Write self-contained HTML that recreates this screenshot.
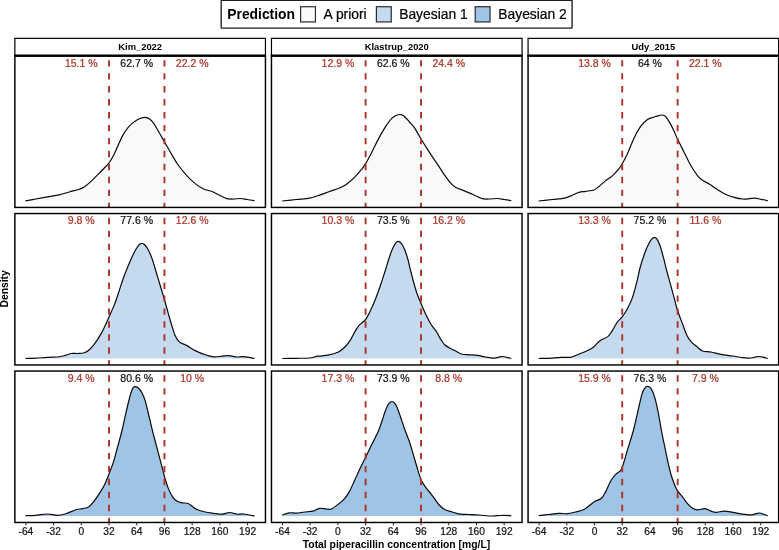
<!DOCTYPE html>
<html lang="en"><head><meta charset="utf-8"><title>Prediction densities</title>
<style>html,body{margin:0;padding:0;background:#fff}body{width:779px;height:550px;overflow:hidden}svg{display:block}text{font-family:"Liberation Sans", Arial, Helvetica, sans-serif;stroke-width:0.22px;paint-order:stroke fill}</style></head><body>
<svg width="779" height="550" viewBox="0 0 779 550">
<rect x="0" y="0" width="779" height="550" fill="#fff"/>
<defs>
<clipPath id="cp00"><rect x="14.87" y="56" width="250.58" height="151.42"/></clipPath>
<clipPath id="cp01"><rect x="271.47" y="56" width="250.58" height="151.42"/></clipPath>
<clipPath id="cp02"><rect x="528.07" y="56" width="250.58" height="151.42"/></clipPath>
<clipPath id="cp10"><rect x="14.87" y="213.55" width="250.58" height="151.42"/></clipPath>
<clipPath id="cp11"><rect x="271.47" y="213.55" width="250.58" height="151.42"/></clipPath>
<clipPath id="cp12"><rect x="528.07" y="213.55" width="250.58" height="151.42"/></clipPath>
<clipPath id="cp20"><rect x="14.87" y="371.05" width="250.58" height="151.42"/></clipPath>
<clipPath id="cp21"><rect x="271.47" y="371.05" width="250.58" height="151.42"/></clipPath>
<clipPath id="cp22"><rect x="528.07" y="371.05" width="250.58" height="151.42"/></clipPath>
</defs>
<g id="legend">
<rect x="221.2" y="0.2" width="350.9" height="27.85" rx="0.6" fill="#fff" stroke="#1c1c1c" stroke-width="1.35"/>
<text x="227.3" y="19.45" font-size="13.85" font-weight="bold" fill="#000">Prediction</text>
<rect x="300.6" y="6.72" width="14.85" height="15.2" fill="#f8f9fb" stroke="#2b2b2b" stroke-width="1.2"/>
<text x="323.6" y="19.45" font-size="13.85" fill="#000" stroke="#000">A priori</text>
<rect x="376.4" y="6.72" width="14.85" height="15.2" fill="#c5daef" stroke="#2b2b2b" stroke-width="1.2"/>
<text x="399.2" y="19.45" font-size="13.85" fill="#000" stroke="#000">Bayesian 1</text>
<rect x="475.2" y="6.72" width="14.85" height="15.2" fill="#a0c4e6" stroke="#2b2b2b" stroke-width="1.2"/>
<text x="498.3" y="19.45" font-size="13.85" fill="#000" stroke="#000">Bayesian 2</text>
</g>
<rect x="14.87" y="38.35" width="250.58" height="17.65" fill="#fff" stroke="#000" stroke-width="1.2"/>
<text x="140.16" y="50.1" font-size="9.4" font-weight="bold" text-anchor="middle" fill="#000">Kim_2022</text>
<rect x="271.47" y="38.35" width="250.58" height="17.65" fill="#fff" stroke="#000" stroke-width="1.2"/>
<text x="396.76" y="50.1" font-size="9.4" font-weight="bold" text-anchor="middle" fill="#000">Klastrup_2020</text>
<rect x="528.07" y="38.35" width="250.58" height="17.65" fill="#fff" stroke="#000" stroke-width="1.2"/>
<text x="653.36" y="50.1" font-size="9.4" font-weight="bold" text-anchor="middle" fill="#000">Udy_2015</text>
<g id="r1c1">
<g clip-path="url(#cp00)">
<path d="M25.5 200.8C27.2 200.5 32.03 199.67 35.7 199C39.37 198.33 43.58 197.5 47.5 196.8C51.42 196.1 55.58 195.6 59.2 194.8C62.82 194 65.87 192.92 69.2 192C72.53 191.08 76.68 190.13 79.2 189.3C81.72 188.47 82.33 188.32 84.3 187C86.27 185.68 88.77 183.45 91 181.4C93.23 179.35 95.48 176.93 97.7 174.7C99.92 172.47 102.43 169.95 104.3 168C106.17 166.05 107.37 165.08 108.9 163C110.43 160.92 112.03 158.28 113.5 155.5C114.97 152.72 116.15 149.65 117.7 146.3C119.25 142.95 121.12 138.47 122.8 135.4C124.48 132.33 126.13 129.98 127.8 127.9C129.47 125.82 131.13 124.3 132.8 122.9C134.47 121.5 136.35 120.32 137.8 119.5C139.25 118.68 140.3 118.35 141.5 118C142.7 117.65 143.72 117.28 145 117.4C146.28 117.52 147.8 117.78 149.2 118.7C150.6 119.62 151.87 120.82 153.4 122.9C154.93 124.98 156.53 128 158.4 131.2C160.27 134.4 162.37 138.18 164.6 142.1C166.83 146.02 169.48 150.8 171.8 154.7C174.12 158.6 176 162.02 178.5 165.5C181 168.98 184.02 172.58 186.8 175.6C189.58 178.62 192.4 181.37 195.2 183.6C198 185.83 200.82 187.68 203.6 189C206.38 190.32 209.4 190.53 211.9 191.5C214.4 192.47 216.08 193.6 218.6 194.8C221.12 196 224.48 198 227 198.7C229.52 199.4 231.47 199.03 233.7 199C235.93 198.97 238.17 198.42 240.4 198.5C242.63 198.58 244.73 199.13 247.1 199.5C249.47 199.87 253.35 200.5 254.6 200.7L254.6 200.87L25.5 200.87Z" fill="#f8f9fb" stroke="none"/>
<path d="M25.5 200.8C27.2 200.5 32.03 199.67 35.7 199C39.37 198.33 43.58 197.5 47.5 196.8C51.42 196.1 55.58 195.6 59.2 194.8C62.82 194 65.87 192.92 69.2 192C72.53 191.08 76.68 190.13 79.2 189.3C81.72 188.47 82.33 188.32 84.3 187C86.27 185.68 88.77 183.45 91 181.4C93.23 179.35 95.48 176.93 97.7 174.7C99.92 172.47 102.43 169.95 104.3 168C106.17 166.05 107.37 165.08 108.9 163C110.43 160.92 112.03 158.28 113.5 155.5C114.97 152.72 116.15 149.65 117.7 146.3C119.25 142.95 121.12 138.47 122.8 135.4C124.48 132.33 126.13 129.98 127.8 127.9C129.47 125.82 131.13 124.3 132.8 122.9C134.47 121.5 136.35 120.32 137.8 119.5C139.25 118.68 140.3 118.35 141.5 118C142.7 117.65 143.72 117.28 145 117.4C146.28 117.52 147.8 117.78 149.2 118.7C150.6 119.62 151.87 120.82 153.4 122.9C154.93 124.98 156.53 128 158.4 131.2C160.27 134.4 162.37 138.18 164.6 142.1C166.83 146.02 169.48 150.8 171.8 154.7C174.12 158.6 176 162.02 178.5 165.5C181 168.98 184.02 172.58 186.8 175.6C189.58 178.62 192.4 181.37 195.2 183.6C198 185.83 200.82 187.68 203.6 189C206.38 190.32 209.4 190.53 211.9 191.5C214.4 192.47 216.08 193.6 218.6 194.8C221.12 196 224.48 198 227 198.7C229.52 199.4 231.47 199.03 233.7 199C235.93 198.97 238.17 198.42 240.4 198.5C242.63 198.58 244.73 199.13 247.1 199.5C249.47 199.87 253.35 200.5 254.6 200.7" fill="none" stroke="#0a0a0a" stroke-width="1.2" stroke-linejoin="round" stroke-linecap="butt"/>
<line x1="109.01" y1="209.07" x2="109.01" y2="54" stroke="#ab3326" stroke-width="1.9" stroke-dasharray="6.4 6.55"/>
<line x1="164.44" y1="209.07" x2="164.44" y2="54" stroke="#ab3326" stroke-width="1.9" stroke-dasharray="6.4 6.55"/>
</g>
<text x="81.3" y="66.6" font-size="10.5" text-anchor="middle" fill="#ab3326" stroke="#ab3326">15.1 %</text>
<text x="136.72" y="66.6" font-size="10.5" text-anchor="middle" fill="#111" stroke="#111">62.7 %</text>
<text x="192.15" y="66.6" font-size="10.5" text-anchor="middle" fill="#ab3326" stroke="#ab3326">22.2 %</text>
<rect x="14.87" y="56" width="250.58" height="151.42" fill="none" stroke="#000" stroke-width="1.45"/>
</g>
<g id="r1c2">
<g clip-path="url(#cp01)">
<path d="M282.2 201C284.52 200.75 291.55 199.97 296.1 199.5C300.65 199.03 305.88 198.83 309.5 198.2C313.12 197.57 314.45 196.82 317.8 195.7C321.15 194.58 325.68 192.9 329.6 191.5C333.52 190.1 338.23 188.7 341.3 187.3C344.37 185.9 345.77 184.78 348 183.1C350.23 181.42 352.48 179.43 354.7 177.2C356.92 174.97 359.5 171.92 361.3 169.7C363.1 167.48 363.82 166.68 365.5 163.9C367.18 161.12 369.3 157.05 371.4 153C373.5 148.95 375.87 143.78 378.1 139.6C380.33 135.42 382.57 131.38 384.8 127.9C387.03 124.42 389.55 120.8 391.5 118.7C393.45 116.6 394.88 115.98 396.5 115.3C398.12 114.62 399.87 114.4 401.2 114.6C402.53 114.8 403.12 115.27 404.5 116.5C405.88 117.73 407.82 120.1 409.5 122C411.18 123.9 412.7 125.1 414.6 127.9C416.5 130.7 418.53 134.9 420.9 138.8C423.27 142.7 426.08 147.12 428.8 151.3C431.52 155.48 434.42 159.72 437.2 163.9C439.98 168.08 443.13 173.07 445.5 176.4C447.87 179.73 449.58 182 451.4 183.9C453.22 185.8 454.32 186.68 456.4 187.8C458.48 188.92 461.25 189.52 463.9 190.6C466.55 191.68 469.23 192.95 472.3 194.3C475.37 195.65 479.52 197.92 482.3 198.7C485.08 199.48 486.48 199.03 489 199C491.52 198.97 494.88 198.42 497.4 198.5C499.92 198.58 501.78 199.13 504.1 199.5C506.42 199.87 510.1 200.5 511.3 200.7L511.3 200.87L282.2 200.87Z" fill="#f8f9fb" stroke="none"/>
<path d="M282.2 201C284.52 200.75 291.55 199.97 296.1 199.5C300.65 199.03 305.88 198.83 309.5 198.2C313.12 197.57 314.45 196.82 317.8 195.7C321.15 194.58 325.68 192.9 329.6 191.5C333.52 190.1 338.23 188.7 341.3 187.3C344.37 185.9 345.77 184.78 348 183.1C350.23 181.42 352.48 179.43 354.7 177.2C356.92 174.97 359.5 171.92 361.3 169.7C363.1 167.48 363.82 166.68 365.5 163.9C367.18 161.12 369.3 157.05 371.4 153C373.5 148.95 375.87 143.78 378.1 139.6C380.33 135.42 382.57 131.38 384.8 127.9C387.03 124.42 389.55 120.8 391.5 118.7C393.45 116.6 394.88 115.98 396.5 115.3C398.12 114.62 399.87 114.4 401.2 114.6C402.53 114.8 403.12 115.27 404.5 116.5C405.88 117.73 407.82 120.1 409.5 122C411.18 123.9 412.7 125.1 414.6 127.9C416.5 130.7 418.53 134.9 420.9 138.8C423.27 142.7 426.08 147.12 428.8 151.3C431.52 155.48 434.42 159.72 437.2 163.9C439.98 168.08 443.13 173.07 445.5 176.4C447.87 179.73 449.58 182 451.4 183.9C453.22 185.8 454.32 186.68 456.4 187.8C458.48 188.92 461.25 189.52 463.9 190.6C466.55 191.68 469.23 192.95 472.3 194.3C475.37 195.65 479.52 197.92 482.3 198.7C485.08 199.48 486.48 199.03 489 199C491.52 198.97 494.88 198.42 497.4 198.5C499.92 198.58 501.78 199.13 504.1 199.5C506.42 199.87 510.1 200.5 511.3 200.7" fill="none" stroke="#0a0a0a" stroke-width="1.2" stroke-linejoin="round" stroke-linecap="butt"/>
<line x1="365.61" y1="209.07" x2="365.61" y2="54" stroke="#ab3326" stroke-width="1.9" stroke-dasharray="6.4 6.55"/>
<line x1="421.04" y1="209.07" x2="421.04" y2="54" stroke="#ab3326" stroke-width="1.9" stroke-dasharray="6.4 6.55"/>
</g>
<text x="337.9" y="66.6" font-size="10.5" text-anchor="middle" fill="#ab3326" stroke="#ab3326">12.9 %</text>
<text x="393.32" y="66.6" font-size="10.5" text-anchor="middle" fill="#111" stroke="#111">62.6 %</text>
<text x="448.75" y="66.6" font-size="10.5" text-anchor="middle" fill="#ab3326" stroke="#ab3326">24.4 %</text>
<rect x="271.47" y="56" width="250.58" height="151.42" fill="none" stroke="#000" stroke-width="1.45"/>
</g>
<g id="r1c3">
<g clip-path="url(#cp02)">
<path d="M538.7 201C540.93 200.75 547.78 199.97 552.1 199.5C556.42 199.03 561.25 198.92 564.6 198.2C567.95 197.48 569.82 196.18 572.2 195.2C574.58 194.22 576.67 192.95 578.9 192.3C581.13 191.65 583.1 191.68 585.6 191.3C588.1 190.92 591.68 190.8 593.9 190C596.12 189.2 597.08 187.93 598.9 186.5C600.72 185.07 602.57 183.17 604.8 181.4C607.03 179.63 610.07 177.85 612.3 175.9C614.53 173.95 616.58 171.65 618.2 169.7C619.82 167.75 620.47 166.85 622 164.2C623.53 161.55 625.38 158.18 627.4 153.8C629.42 149.42 631.87 142.5 634.1 137.9C636.33 133.3 638.57 129.27 640.8 126.2C643.03 123.13 645.55 120.95 647.5 119.5C649.45 118.05 651.13 118 652.5 117.5C653.87 117 654.05 116.92 655.7 116.5C657.35 116.08 660.73 114.97 662.4 115C664.07 115.03 664.45 115.38 665.7 116.7C666.95 118.02 668.5 120.48 669.9 122.9C671.3 125.32 672.85 128.55 674.1 131.2C675.35 133.85 675.73 135.3 677.4 138.8C679.07 142.3 681.87 147.75 684.1 152.2C686.33 156.65 688.57 161.6 690.8 165.5C693.03 169.4 695.55 173.13 697.5 175.6C699.45 178.07 700.55 178.92 702.5 180.3C704.45 181.68 706.68 182.32 709.2 183.9C711.72 185.48 714.8 188.03 717.6 189.8C720.4 191.57 723.22 193.25 726 194.5C728.78 195.75 731.52 196.55 734.3 197.3C737.08 198.05 740.18 198.77 742.7 199C745.22 199.23 747.45 198.83 749.4 198.7C751.35 198.57 752.45 198.1 754.4 198.2C756.35 198.3 758.87 198.88 761.1 199.3C763.33 199.72 766.68 200.47 767.8 200.7L767.8 200.87L538.7 200.87Z" fill="#f8f9fb" stroke="none"/>
<path d="M538.7 201C540.93 200.75 547.78 199.97 552.1 199.5C556.42 199.03 561.25 198.92 564.6 198.2C567.95 197.48 569.82 196.18 572.2 195.2C574.58 194.22 576.67 192.95 578.9 192.3C581.13 191.65 583.1 191.68 585.6 191.3C588.1 190.92 591.68 190.8 593.9 190C596.12 189.2 597.08 187.93 598.9 186.5C600.72 185.07 602.57 183.17 604.8 181.4C607.03 179.63 610.07 177.85 612.3 175.9C614.53 173.95 616.58 171.65 618.2 169.7C619.82 167.75 620.47 166.85 622 164.2C623.53 161.55 625.38 158.18 627.4 153.8C629.42 149.42 631.87 142.5 634.1 137.9C636.33 133.3 638.57 129.27 640.8 126.2C643.03 123.13 645.55 120.95 647.5 119.5C649.45 118.05 651.13 118 652.5 117.5C653.87 117 654.05 116.92 655.7 116.5C657.35 116.08 660.73 114.97 662.4 115C664.07 115.03 664.45 115.38 665.7 116.7C666.95 118.02 668.5 120.48 669.9 122.9C671.3 125.32 672.85 128.55 674.1 131.2C675.35 133.85 675.73 135.3 677.4 138.8C679.07 142.3 681.87 147.75 684.1 152.2C686.33 156.65 688.57 161.6 690.8 165.5C693.03 169.4 695.55 173.13 697.5 175.6C699.45 178.07 700.55 178.92 702.5 180.3C704.45 181.68 706.68 182.32 709.2 183.9C711.72 185.48 714.8 188.03 717.6 189.8C720.4 191.57 723.22 193.25 726 194.5C728.78 195.75 731.52 196.55 734.3 197.3C737.08 198.05 740.18 198.77 742.7 199C745.22 199.23 747.45 198.83 749.4 198.7C751.35 198.57 752.45 198.1 754.4 198.2C756.35 198.3 758.87 198.88 761.1 199.3C763.33 199.72 766.68 200.47 767.8 200.7" fill="none" stroke="#0a0a0a" stroke-width="1.2" stroke-linejoin="round" stroke-linecap="butt"/>
<line x1="622.21" y1="209.07" x2="622.21" y2="54" stroke="#ab3326" stroke-width="1.9" stroke-dasharray="6.4 6.55"/>
<line x1="677.64" y1="209.07" x2="677.64" y2="54" stroke="#ab3326" stroke-width="1.9" stroke-dasharray="6.4 6.55"/>
</g>
<text x="594.5" y="66.6" font-size="10.5" text-anchor="middle" fill="#ab3326" stroke="#ab3326">13.8 %</text>
<text x="649.92" y="66.6" font-size="10.5" text-anchor="middle" fill="#111" stroke="#111">64 %</text>
<text x="705.35" y="66.6" font-size="10.5" text-anchor="middle" fill="#ab3326" stroke="#ab3326">22.1 %</text>
<rect x="528.07" y="56" width="250.58" height="151.42" fill="none" stroke="#000" stroke-width="1.45"/>
</g>
<g id="r2c1">
<g clip-path="url(#cp10)">
<path d="M25.4 358.5C27.12 358.45 32.02 358.4 35.7 358.2C39.38 358 43.87 357.5 47.5 357.3C51.13 357.1 54.72 357.27 57.5 357C60.28 356.73 61.97 356.28 64.2 355.7C66.43 355.12 68.67 353.87 70.9 353.5C73.13 353.13 75.37 353.62 77.6 353.5C79.83 353.38 82.35 353.42 84.3 352.8C86.25 352.18 87.5 351.42 89.3 349.8C91.1 348.18 93.15 345.75 95.1 343.1C97.05 340.45 99.32 336.83 101 333.9C102.68 330.97 103.88 328.28 105.2 325.5C106.52 322.72 107.37 320.68 108.9 317.2C110.43 313.72 112.8 308.63 114.4 304.6C116 300.57 117.12 297.1 118.5 293C119.88 288.9 121.3 284 122.7 280C124.1 276 125.37 272.78 126.9 269C128.43 265.22 130.37 260.63 131.9 257.3C133.43 253.97 134.85 251.13 136.1 249C137.35 246.87 138.43 245.42 139.4 244.5C140.37 243.58 141.07 243.5 141.9 243.5C142.73 243.5 143.42 243.58 144.4 244.5C145.38 245.42 146.53 246.67 147.8 249C149.07 251.33 150.63 254.75 152 258.5C153.37 262.25 154.63 267 156 271.5C157.37 276 158.8 280.83 160.2 285.5C161.6 290.17 163.03 294.78 164.4 299.5C165.77 304.22 167.17 309.47 168.4 313.8C169.63 318.13 170.68 321.87 171.8 325.5C172.92 329.13 173.85 332.87 175.1 335.6C176.35 338.33 177.35 340.23 179.3 341.9C181.25 343.57 184.15 344.15 186.8 345.6C189.45 347.05 192.13 349.07 195.2 350.6C198.27 352.13 202.13 353.77 205.2 354.8C208.27 355.83 210.8 356.57 213.6 356.8C216.4 357.03 219.48 356.38 222 356.2C224.52 356.02 226.2 355.57 228.7 355.7C231.2 355.83 234.5 356.83 237 357C239.5 357.17 240.77 356.45 243.7 356.7C246.63 356.95 252.78 358.2 254.6 358.5L254.6 358.42L25.4 358.42Z" fill="#c5daef" stroke="none"/>
<path d="M25.4 358.5C27.12 358.45 32.02 358.4 35.7 358.2C39.38 358 43.87 357.5 47.5 357.3C51.13 357.1 54.72 357.27 57.5 357C60.28 356.73 61.97 356.28 64.2 355.7C66.43 355.12 68.67 353.87 70.9 353.5C73.13 353.13 75.37 353.62 77.6 353.5C79.83 353.38 82.35 353.42 84.3 352.8C86.25 352.18 87.5 351.42 89.3 349.8C91.1 348.18 93.15 345.75 95.1 343.1C97.05 340.45 99.32 336.83 101 333.9C102.68 330.97 103.88 328.28 105.2 325.5C106.52 322.72 107.37 320.68 108.9 317.2C110.43 313.72 112.8 308.63 114.4 304.6C116 300.57 117.12 297.1 118.5 293C119.88 288.9 121.3 284 122.7 280C124.1 276 125.37 272.78 126.9 269C128.43 265.22 130.37 260.63 131.9 257.3C133.43 253.97 134.85 251.13 136.1 249C137.35 246.87 138.43 245.42 139.4 244.5C140.37 243.58 141.07 243.5 141.9 243.5C142.73 243.5 143.42 243.58 144.4 244.5C145.38 245.42 146.53 246.67 147.8 249C149.07 251.33 150.63 254.75 152 258.5C153.37 262.25 154.63 267 156 271.5C157.37 276 158.8 280.83 160.2 285.5C161.6 290.17 163.03 294.78 164.4 299.5C165.77 304.22 167.17 309.47 168.4 313.8C169.63 318.13 170.68 321.87 171.8 325.5C172.92 329.13 173.85 332.87 175.1 335.6C176.35 338.33 177.35 340.23 179.3 341.9C181.25 343.57 184.15 344.15 186.8 345.6C189.45 347.05 192.13 349.07 195.2 350.6C198.27 352.13 202.13 353.77 205.2 354.8C208.27 355.83 210.8 356.57 213.6 356.8C216.4 357.03 219.48 356.38 222 356.2C224.52 356.02 226.2 355.57 228.7 355.7C231.2 355.83 234.5 356.83 237 357C239.5 357.17 240.77 356.45 243.7 356.7C246.63 356.95 252.78 358.2 254.6 358.5" fill="none" stroke="#0a0a0a" stroke-width="1.2" stroke-linejoin="round" stroke-linecap="butt"/>
<line x1="109.01" y1="366.62" x2="109.01" y2="211.55" stroke="#ab3326" stroke-width="1.9" stroke-dasharray="6.4 6.55"/>
<line x1="164.44" y1="366.62" x2="164.44" y2="211.55" stroke="#ab3326" stroke-width="1.9" stroke-dasharray="6.4 6.55"/>
</g>
<text x="81.3" y="224.15" font-size="10.5" text-anchor="middle" fill="#ab3326" stroke="#ab3326">9.8 %</text>
<text x="136.72" y="224.15" font-size="10.5" text-anchor="middle" fill="#111" stroke="#111">77.6 %</text>
<text x="192.15" y="224.15" font-size="10.5" text-anchor="middle" fill="#ab3326" stroke="#ab3326">12.6 %</text>
<rect x="14.87" y="213.55" width="250.58" height="151.42" fill="none" stroke="#000" stroke-width="1.45"/>
</g>
<g id="r2c2">
<g clip-path="url(#cp11)">
<path d="M282.2 358.5C284.52 358.47 291.55 358.38 296.1 358.3C300.65 358.22 305.88 358.35 309.5 358C313.12 357.65 314.73 356.67 317.8 356.2C320.87 355.73 324.55 355.85 327.9 355.2C331.25 354.55 335.12 353.62 337.9 352.3C340.68 350.98 342.5 349.38 344.6 347.3C346.7 345.22 348.68 342.58 350.5 339.8C352.32 337.02 353.97 333.12 355.5 330.6C357.03 328.08 358.03 326.52 359.7 324.7C361.37 322.88 363.7 322.07 365.5 319.7C367.3 317.33 368.82 314 370.5 310.5C372.18 307 373.92 302.95 375.6 298.7C377.28 294.45 379.07 289.45 380.6 285C382.13 280.55 383.2 277.03 384.8 272C386.4 266.97 388.73 259.05 390.2 254.8C391.67 250.55 392.62 248.53 393.6 246.5C394.58 244.47 395.33 243.45 396.1 242.6C396.87 241.75 397.37 241.32 398.2 241.4C399.03 241.48 400.07 241.83 401.1 243.1C402.13 244.37 403.28 246.35 404.4 249C405.52 251.65 406.75 255.33 407.8 259C408.85 262.67 409.72 267.08 410.7 271C411.68 274.92 412.63 278.7 413.7 282.5C414.77 286.3 415.9 290.33 417.1 293.8C418.3 297.27 419.37 299.68 420.9 303.3C422.43 306.92 424.57 311.93 426.3 315.5C428.03 319.07 429.63 322.05 431.3 324.7C432.97 327.35 434.77 329.03 436.3 331.4C437.83 333.77 439.1 336.67 440.5 338.9C441.9 341.13 443.03 343.2 444.7 344.8C446.37 346.4 448.68 347.47 450.5 348.5C452.32 349.53 453.78 350.08 455.6 351C457.42 351.92 459.18 353.37 461.4 354C463.62 354.63 466.25 354.58 468.9 354.8C471.55 355.02 474.5 354.93 477.3 355.3C480.1 355.67 483.05 356.52 485.7 357C488.35 357.48 491.12 358.15 493.2 358.2C495.28 358.25 496.67 357.58 498.2 357.3C499.73 357.02 501 356.5 502.4 356.5C503.8 356.5 505.12 356.97 506.6 357.3C508.08 357.63 510.52 358.3 511.3 358.5L511.3 358.42L282.2 358.42Z" fill="#c5daef" stroke="none"/>
<path d="M282.2 358.5C284.52 358.47 291.55 358.38 296.1 358.3C300.65 358.22 305.88 358.35 309.5 358C313.12 357.65 314.73 356.67 317.8 356.2C320.87 355.73 324.55 355.85 327.9 355.2C331.25 354.55 335.12 353.62 337.9 352.3C340.68 350.98 342.5 349.38 344.6 347.3C346.7 345.22 348.68 342.58 350.5 339.8C352.32 337.02 353.97 333.12 355.5 330.6C357.03 328.08 358.03 326.52 359.7 324.7C361.37 322.88 363.7 322.07 365.5 319.7C367.3 317.33 368.82 314 370.5 310.5C372.18 307 373.92 302.95 375.6 298.7C377.28 294.45 379.07 289.45 380.6 285C382.13 280.55 383.2 277.03 384.8 272C386.4 266.97 388.73 259.05 390.2 254.8C391.67 250.55 392.62 248.53 393.6 246.5C394.58 244.47 395.33 243.45 396.1 242.6C396.87 241.75 397.37 241.32 398.2 241.4C399.03 241.48 400.07 241.83 401.1 243.1C402.13 244.37 403.28 246.35 404.4 249C405.52 251.65 406.75 255.33 407.8 259C408.85 262.67 409.72 267.08 410.7 271C411.68 274.92 412.63 278.7 413.7 282.5C414.77 286.3 415.9 290.33 417.1 293.8C418.3 297.27 419.37 299.68 420.9 303.3C422.43 306.92 424.57 311.93 426.3 315.5C428.03 319.07 429.63 322.05 431.3 324.7C432.97 327.35 434.77 329.03 436.3 331.4C437.83 333.77 439.1 336.67 440.5 338.9C441.9 341.13 443.03 343.2 444.7 344.8C446.37 346.4 448.68 347.47 450.5 348.5C452.32 349.53 453.78 350.08 455.6 351C457.42 351.92 459.18 353.37 461.4 354C463.62 354.63 466.25 354.58 468.9 354.8C471.55 355.02 474.5 354.93 477.3 355.3C480.1 355.67 483.05 356.52 485.7 357C488.35 357.48 491.12 358.15 493.2 358.2C495.28 358.25 496.67 357.58 498.2 357.3C499.73 357.02 501 356.5 502.4 356.5C503.8 356.5 505.12 356.97 506.6 357.3C508.08 357.63 510.52 358.3 511.3 358.5" fill="none" stroke="#0a0a0a" stroke-width="1.2" stroke-linejoin="round" stroke-linecap="butt"/>
<line x1="365.61" y1="366.62" x2="365.61" y2="211.55" stroke="#ab3326" stroke-width="1.9" stroke-dasharray="6.4 6.55"/>
<line x1="421.04" y1="366.62" x2="421.04" y2="211.55" stroke="#ab3326" stroke-width="1.9" stroke-dasharray="6.4 6.55"/>
</g>
<text x="337.9" y="224.15" font-size="10.5" text-anchor="middle" fill="#ab3326" stroke="#ab3326">10.3 %</text>
<text x="393.32" y="224.15" font-size="10.5" text-anchor="middle" fill="#111" stroke="#111">73.5 %</text>
<text x="448.75" y="224.15" font-size="10.5" text-anchor="middle" fill="#ab3326" stroke="#ab3326">16.2 %</text>
<rect x="271.47" y="213.55" width="250.58" height="151.42" fill="none" stroke="#000" stroke-width="1.45"/>
</g>
<g id="r2c3">
<g clip-path="url(#cp12)">
<path d="M538.7 358.5C540.93 358.45 548.47 358.4 552.1 358.2C555.73 358 557.43 357.45 560.5 357.3C563.57 357.15 567.72 357.72 570.5 357.3C573.28 356.88 574.68 355.77 577.2 354.8C579.72 353.83 583.08 352.62 585.6 351.5C588.12 350.38 590.35 349.5 592.3 348.1C594.25 346.7 595.77 344.48 597.3 343.1C598.83 341.72 599.7 340.92 601.5 339.8C603.3 338.68 606.3 337.93 608.1 336.4C609.9 334.87 610.77 332.97 612.3 330.6C613.83 328.23 615.68 324.43 617.3 322.2C618.92 319.97 620.32 319.43 622 317.2C623.68 314.97 625.67 312.07 627.4 308.8C629.13 305.53 630.85 301.98 632.4 297.6C633.95 293.22 635.43 287.43 636.7 282.5C637.97 277.57 638.72 272.75 640 268C641.28 263.25 642.97 258 644.4 254C645.83 250 647.35 246.52 648.6 244C649.85 241.48 650.93 239.97 651.9 238.9C652.87 237.83 653.57 237.6 654.4 237.6C655.23 237.6 655.92 237.42 656.9 238.9C657.88 240.38 659.18 243.28 660.3 246.5C661.42 249.72 662.5 254.03 663.6 258.2C664.7 262.37 665.85 267.5 666.9 271.5C667.95 275.5 668.7 277.83 669.9 282.2C671.1 286.57 672.85 293.07 674.1 297.7C675.35 302.33 676 305.63 677.4 310C678.8 314.37 680.97 319.78 682.5 323.9C684.03 328.02 685.22 331.78 686.6 334.7C687.98 337.62 689.12 339.43 690.8 341.4C692.48 343.37 694.75 344.9 696.7 346.5C698.65 348.1 700.13 350.08 702.5 351C704.87 351.92 707.83 351.45 710.9 352C713.97 352.55 717.27 353.63 720.9 354.3C724.53 354.97 729.07 355.43 732.7 356C736.33 356.57 739.63 357.37 742.7 357.7C745.77 358.03 748.87 358.15 751.1 358C753.33 357.85 754.72 357.05 756.1 356.8C757.48 356.55 758.15 356.42 759.4 356.5C760.65 356.58 762.2 356.97 763.6 357.3C765 357.63 767.1 358.3 767.8 358.5L767.8 358.42L538.7 358.42Z" fill="#c5daef" stroke="none"/>
<path d="M538.7 358.5C540.93 358.45 548.47 358.4 552.1 358.2C555.73 358 557.43 357.45 560.5 357.3C563.57 357.15 567.72 357.72 570.5 357.3C573.28 356.88 574.68 355.77 577.2 354.8C579.72 353.83 583.08 352.62 585.6 351.5C588.12 350.38 590.35 349.5 592.3 348.1C594.25 346.7 595.77 344.48 597.3 343.1C598.83 341.72 599.7 340.92 601.5 339.8C603.3 338.68 606.3 337.93 608.1 336.4C609.9 334.87 610.77 332.97 612.3 330.6C613.83 328.23 615.68 324.43 617.3 322.2C618.92 319.97 620.32 319.43 622 317.2C623.68 314.97 625.67 312.07 627.4 308.8C629.13 305.53 630.85 301.98 632.4 297.6C633.95 293.22 635.43 287.43 636.7 282.5C637.97 277.57 638.72 272.75 640 268C641.28 263.25 642.97 258 644.4 254C645.83 250 647.35 246.52 648.6 244C649.85 241.48 650.93 239.97 651.9 238.9C652.87 237.83 653.57 237.6 654.4 237.6C655.23 237.6 655.92 237.42 656.9 238.9C657.88 240.38 659.18 243.28 660.3 246.5C661.42 249.72 662.5 254.03 663.6 258.2C664.7 262.37 665.85 267.5 666.9 271.5C667.95 275.5 668.7 277.83 669.9 282.2C671.1 286.57 672.85 293.07 674.1 297.7C675.35 302.33 676 305.63 677.4 310C678.8 314.37 680.97 319.78 682.5 323.9C684.03 328.02 685.22 331.78 686.6 334.7C687.98 337.62 689.12 339.43 690.8 341.4C692.48 343.37 694.75 344.9 696.7 346.5C698.65 348.1 700.13 350.08 702.5 351C704.87 351.92 707.83 351.45 710.9 352C713.97 352.55 717.27 353.63 720.9 354.3C724.53 354.97 729.07 355.43 732.7 356C736.33 356.57 739.63 357.37 742.7 357.7C745.77 358.03 748.87 358.15 751.1 358C753.33 357.85 754.72 357.05 756.1 356.8C757.48 356.55 758.15 356.42 759.4 356.5C760.65 356.58 762.2 356.97 763.6 357.3C765 357.63 767.1 358.3 767.8 358.5" fill="none" stroke="#0a0a0a" stroke-width="1.2" stroke-linejoin="round" stroke-linecap="butt"/>
<line x1="622.21" y1="366.62" x2="622.21" y2="211.55" stroke="#ab3326" stroke-width="1.9" stroke-dasharray="6.4 6.55"/>
<line x1="677.64" y1="366.62" x2="677.64" y2="211.55" stroke="#ab3326" stroke-width="1.9" stroke-dasharray="6.4 6.55"/>
</g>
<text x="594.5" y="224.15" font-size="10.5" text-anchor="middle" fill="#ab3326" stroke="#ab3326">13.3 %</text>
<text x="649.92" y="224.15" font-size="10.5" text-anchor="middle" fill="#111" stroke="#111">75.2 %</text>
<text x="705.35" y="224.15" font-size="10.5" text-anchor="middle" fill="#ab3326" stroke="#ab3326">11.6 %</text>
<rect x="528.07" y="213.55" width="250.58" height="151.42" fill="none" stroke="#000" stroke-width="1.45"/>
</g>
<g id="r3c1">
<g clip-path="url(#cp20)">
<path d="M25.4 515.7C27.12 515.63 32.02 515.58 35.7 515.3C39.38 515.02 43.87 514 47.5 514C51.13 514 54.43 515.35 57.5 515.3C60.57 515.25 62.83 514.62 65.9 513.7C68.97 512.78 73.12 510.65 75.9 509.8C78.68 508.95 80.5 509.07 82.6 508.6C84.7 508.13 86.68 508.12 88.5 507C90.32 505.88 91.7 504.13 93.5 501.9C95.3 499.67 97.5 496.38 99.3 493.6C101.1 490.82 102.7 488.42 104.3 485.2C105.9 481.98 107.4 478.1 108.9 474.3C110.4 470.5 111.9 466.78 113.3 462.4C114.7 458.02 115.87 453.23 117.3 448C118.73 442.77 120.58 436.3 121.9 431C123.22 425.7 124.1 421.03 125.2 416.2C126.3 411.37 127.53 405.92 128.5 402C129.47 398.08 130.22 395.08 131 392.7C131.78 390.32 132.5 388.72 133.2 387.7C133.9 386.68 134.3 386.52 135.2 386.6C136.1 386.68 137.48 387.18 138.6 388.2C139.72 389.22 140.78 390.55 141.9 392.7C143.02 394.85 144.18 397.47 145.3 401.1C146.42 404.73 147.42 409.6 148.6 414.5C149.78 419.4 151.03 425.05 152.4 430.5C153.77 435.95 155.37 441.75 156.8 447.2C158.23 452.65 159.7 458.27 161 463.2C162.3 468.13 163.37 472.57 164.6 476.8C165.83 481.03 167.07 485.25 168.4 488.6C169.73 491.95 171.2 494.82 172.6 496.9C174 498.98 175.27 500.12 176.8 501.1C178.33 502.08 179.98 502.43 181.8 502.8C183.62 503.17 186.02 502.75 187.7 503.3C189.38 503.85 190.37 505.07 191.9 506.1C193.43 507.13 194.68 508.52 196.9 509.5C199.12 510.48 202.42 511.37 205.2 512C207.98 512.63 210.8 512.93 213.6 513.3C216.4 513.67 219.35 514.33 222 514.2C224.65 514.07 227 512.5 229.5 512.5C232 512.5 234.63 513.95 237 514.2C239.37 514.45 240.77 513.7 243.7 514C246.63 514.3 252.78 515.67 254.6 516L254.6 515.92L25.4 515.92Z" fill="#a0c4e6" stroke="none"/>
<path d="M25.4 515.7C27.12 515.63 32.02 515.58 35.7 515.3C39.38 515.02 43.87 514 47.5 514C51.13 514 54.43 515.35 57.5 515.3C60.57 515.25 62.83 514.62 65.9 513.7C68.97 512.78 73.12 510.65 75.9 509.8C78.68 508.95 80.5 509.07 82.6 508.6C84.7 508.13 86.68 508.12 88.5 507C90.32 505.88 91.7 504.13 93.5 501.9C95.3 499.67 97.5 496.38 99.3 493.6C101.1 490.82 102.7 488.42 104.3 485.2C105.9 481.98 107.4 478.1 108.9 474.3C110.4 470.5 111.9 466.78 113.3 462.4C114.7 458.02 115.87 453.23 117.3 448C118.73 442.77 120.58 436.3 121.9 431C123.22 425.7 124.1 421.03 125.2 416.2C126.3 411.37 127.53 405.92 128.5 402C129.47 398.08 130.22 395.08 131 392.7C131.78 390.32 132.5 388.72 133.2 387.7C133.9 386.68 134.3 386.52 135.2 386.6C136.1 386.68 137.48 387.18 138.6 388.2C139.72 389.22 140.78 390.55 141.9 392.7C143.02 394.85 144.18 397.47 145.3 401.1C146.42 404.73 147.42 409.6 148.6 414.5C149.78 419.4 151.03 425.05 152.4 430.5C153.77 435.95 155.37 441.75 156.8 447.2C158.23 452.65 159.7 458.27 161 463.2C162.3 468.13 163.37 472.57 164.6 476.8C165.83 481.03 167.07 485.25 168.4 488.6C169.73 491.95 171.2 494.82 172.6 496.9C174 498.98 175.27 500.12 176.8 501.1C178.33 502.08 179.98 502.43 181.8 502.8C183.62 503.17 186.02 502.75 187.7 503.3C189.38 503.85 190.37 505.07 191.9 506.1C193.43 507.13 194.68 508.52 196.9 509.5C199.12 510.48 202.42 511.37 205.2 512C207.98 512.63 210.8 512.93 213.6 513.3C216.4 513.67 219.35 514.33 222 514.2C224.65 514.07 227 512.5 229.5 512.5C232 512.5 234.63 513.95 237 514.2C239.37 514.45 240.77 513.7 243.7 514C246.63 514.3 252.78 515.67 254.6 516" fill="none" stroke="#0a0a0a" stroke-width="1.2" stroke-linejoin="round" stroke-linecap="butt"/>
<line x1="109.01" y1="524.12" x2="109.01" y2="369.05" stroke="#ab3326" stroke-width="1.9" stroke-dasharray="6.4 6.55"/>
<line x1="164.44" y1="524.12" x2="164.44" y2="369.05" stroke="#ab3326" stroke-width="1.9" stroke-dasharray="6.4 6.55"/>
</g>
<text x="81.3" y="381.65" font-size="10.5" text-anchor="middle" fill="#ab3326" stroke="#ab3326">9.4 %</text>
<text x="136.72" y="381.65" font-size="10.5" text-anchor="middle" fill="#111" stroke="#111">80.6 %</text>
<text x="192.15" y="381.65" font-size="10.5" text-anchor="middle" fill="#ab3326" stroke="#ab3326">10 %</text>
<rect x="14.87" y="371.05" width="250.58" height="151.42" fill="none" stroke="#000" stroke-width="1.45"/>
</g>
<g id="r3c2">
<g clip-path="url(#cp21)">
<path d="M282.2 515C283.4 514.63 287.08 513.1 289.4 512.8C291.72 512.5 293.58 513.33 296.1 513.2C298.62 513.07 301.72 512.35 304.5 512C307.28 511.65 310.3 511.72 312.8 511.1C315.3 510.48 317.27 508.65 319.5 508.3C321.73 507.95 324.25 508.88 326.2 509C328.15 509.12 329.25 509.75 331.2 509C333.15 508.25 335.67 506.23 337.9 504.5C340.13 502.77 342.65 500.83 344.6 498.6C346.55 496.37 347.92 494.17 349.6 491.1C351.28 488.03 353.02 483.83 354.7 480.2C356.38 476.57 357.87 473.17 359.7 469.3C361.53 465.43 363.72 461.08 365.7 457C367.68 452.92 369.52 449.05 371.6 444.8C373.68 440.55 376.48 435.43 378.2 431.5C379.92 427.57 380.73 424.58 381.9 421.2C383.07 417.82 384.23 413.85 385.2 411.2C386.17 408.55 386.85 406.78 387.7 405.3C388.55 403.82 389.6 402.93 390.3 402.3C391 401.67 391.22 401.42 391.9 401.5C392.58 401.58 393.57 401.88 394.4 402.8C395.23 403.72 395.92 404.77 396.9 407C397.88 409.23 399.02 412.53 400.3 416.2C401.58 419.87 403.07 424.7 404.6 429C406.13 433.3 408.05 437.75 409.5 442C410.95 446.25 412.03 450.25 413.3 454.5C414.57 458.75 415.83 463.35 417.1 467.5C418.37 471.65 419.52 476.17 420.9 479.4C422.28 482.63 423.53 484.25 425.4 486.9C427.27 489.55 429.87 492.37 432.1 495.3C434.33 498.23 436.7 502.13 438.8 504.5C440.9 506.87 442.47 508.25 444.7 509.5C446.93 510.75 449.55 511.22 452.2 512C454.85 512.78 457.82 513.78 460.6 514.2C463.38 514.62 465.83 514.37 468.9 514.5C471.97 514.63 475.65 514.75 479 515C482.35 515.25 485.93 515.88 489 516C492.07 516.12 494.88 515.82 497.4 515.7C499.92 515.58 501.78 515.28 504.1 515.3C506.42 515.32 510.1 515.72 511.3 515.8L511.3 515.92L282.2 515.92Z" fill="#a0c4e6" stroke="none"/>
<path d="M282.2 515C283.4 514.63 287.08 513.1 289.4 512.8C291.72 512.5 293.58 513.33 296.1 513.2C298.62 513.07 301.72 512.35 304.5 512C307.28 511.65 310.3 511.72 312.8 511.1C315.3 510.48 317.27 508.65 319.5 508.3C321.73 507.95 324.25 508.88 326.2 509C328.15 509.12 329.25 509.75 331.2 509C333.15 508.25 335.67 506.23 337.9 504.5C340.13 502.77 342.65 500.83 344.6 498.6C346.55 496.37 347.92 494.17 349.6 491.1C351.28 488.03 353.02 483.83 354.7 480.2C356.38 476.57 357.87 473.17 359.7 469.3C361.53 465.43 363.72 461.08 365.7 457C367.68 452.92 369.52 449.05 371.6 444.8C373.68 440.55 376.48 435.43 378.2 431.5C379.92 427.57 380.73 424.58 381.9 421.2C383.07 417.82 384.23 413.85 385.2 411.2C386.17 408.55 386.85 406.78 387.7 405.3C388.55 403.82 389.6 402.93 390.3 402.3C391 401.67 391.22 401.42 391.9 401.5C392.58 401.58 393.57 401.88 394.4 402.8C395.23 403.72 395.92 404.77 396.9 407C397.88 409.23 399.02 412.53 400.3 416.2C401.58 419.87 403.07 424.7 404.6 429C406.13 433.3 408.05 437.75 409.5 442C410.95 446.25 412.03 450.25 413.3 454.5C414.57 458.75 415.83 463.35 417.1 467.5C418.37 471.65 419.52 476.17 420.9 479.4C422.28 482.63 423.53 484.25 425.4 486.9C427.27 489.55 429.87 492.37 432.1 495.3C434.33 498.23 436.7 502.13 438.8 504.5C440.9 506.87 442.47 508.25 444.7 509.5C446.93 510.75 449.55 511.22 452.2 512C454.85 512.78 457.82 513.78 460.6 514.2C463.38 514.62 465.83 514.37 468.9 514.5C471.97 514.63 475.65 514.75 479 515C482.35 515.25 485.93 515.88 489 516C492.07 516.12 494.88 515.82 497.4 515.7C499.92 515.58 501.78 515.28 504.1 515.3C506.42 515.32 510.1 515.72 511.3 515.8" fill="none" stroke="#0a0a0a" stroke-width="1.2" stroke-linejoin="round" stroke-linecap="butt"/>
<line x1="365.61" y1="524.12" x2="365.61" y2="369.05" stroke="#ab3326" stroke-width="1.9" stroke-dasharray="6.4 6.55"/>
<line x1="421.04" y1="524.12" x2="421.04" y2="369.05" stroke="#ab3326" stroke-width="1.9" stroke-dasharray="6.4 6.55"/>
</g>
<text x="337.9" y="381.65" font-size="10.5" text-anchor="middle" fill="#ab3326" stroke="#ab3326">17.3 %</text>
<text x="393.32" y="381.65" font-size="10.5" text-anchor="middle" fill="#111" stroke="#111">73.9 %</text>
<text x="448.75" y="381.65" font-size="10.5" text-anchor="middle" fill="#ab3326" stroke="#ab3326">8.8 %</text>
<rect x="271.47" y="371.05" width="250.58" height="151.42" fill="none" stroke="#000" stroke-width="1.45"/>
</g>
<g id="r3c3">
<g clip-path="url(#cp22)">
<path d="M538.7 515.7C540.37 515.5 545.35 514.9 548.7 514.5C552.05 514.1 555.72 513.43 558.8 513.3C561.88 513.17 564.42 513.92 567.2 513.7C569.98 513.48 572.72 512.7 575.5 512C578.28 511.3 581.38 510.75 583.9 509.5C586.42 508.25 588.65 505.9 590.6 504.5C592.55 503.1 593.78 502.13 595.6 501.1C597.42 500.07 599.83 499.83 601.5 498.3C603.17 496.77 604.07 494.78 605.6 491.9C607.13 489.02 609.02 483.93 610.7 481C612.38 478.07 613.98 476.13 615.7 474.3C617.42 472.47 619.65 471.98 621 470C622.35 468.02 622.63 466.03 623.8 462.4C624.97 458.77 626.45 453.35 628 448.2C629.55 443.05 631.77 436.28 633.1 431.5C634.43 426.72 634.95 424 636 419.5C637.05 415 638.42 408.68 639.4 404.5C640.38 400.32 641.07 397.05 641.9 394.4C642.73 391.75 643.52 389.93 644.4 388.6C645.28 387.27 646.22 386.55 647.2 386.4C648.18 386.25 649.37 386.78 650.3 387.7C651.23 388.62 651.97 389.95 652.8 391.9C653.63 393.85 654.33 395.63 655.3 399.4C656.27 403.17 657.55 409.15 658.6 414.5C659.65 419.85 660.6 426.25 661.6 431.5C662.6 436.75 663.6 441.17 664.6 446C665.6 450.83 666.58 455.92 667.6 460.5C668.62 465.08 669.62 469.67 670.7 473.5C671.78 477.33 672.98 480.65 674.1 483.5C675.22 486.35 676 488.37 677.4 490.6C678.8 492.83 680.82 494.73 682.5 496.9C684.18 499.07 685.83 501.7 687.5 503.6C689.17 505.5 690.83 507.27 692.5 508.3C694.17 509.33 695.42 509.75 697.5 509.8C699.58 509.85 702.77 508.38 705 508.6C707.23 508.82 709.08 510.48 710.9 511.1C712.72 511.72 713.67 512.3 715.9 512.3C718.13 512.3 721.5 511.1 724.3 511.1C727.1 511.1 729.63 511.78 732.7 512.3C735.77 512.82 739.63 513.78 742.7 514.2C745.77 514.62 748.87 514.88 751.1 514.8C753.33 514.72 754.72 514 756.1 513.7C757.48 513.4 758.15 512.92 759.4 513C760.65 513.08 762.2 513.73 763.6 514.2C765 514.67 767.1 515.53 767.8 515.8L767.8 515.92L538.7 515.92Z" fill="#a0c4e6" stroke="none"/>
<path d="M538.7 515.7C540.37 515.5 545.35 514.9 548.7 514.5C552.05 514.1 555.72 513.43 558.8 513.3C561.88 513.17 564.42 513.92 567.2 513.7C569.98 513.48 572.72 512.7 575.5 512C578.28 511.3 581.38 510.75 583.9 509.5C586.42 508.25 588.65 505.9 590.6 504.5C592.55 503.1 593.78 502.13 595.6 501.1C597.42 500.07 599.83 499.83 601.5 498.3C603.17 496.77 604.07 494.78 605.6 491.9C607.13 489.02 609.02 483.93 610.7 481C612.38 478.07 613.98 476.13 615.7 474.3C617.42 472.47 619.65 471.98 621 470C622.35 468.02 622.63 466.03 623.8 462.4C624.97 458.77 626.45 453.35 628 448.2C629.55 443.05 631.77 436.28 633.1 431.5C634.43 426.72 634.95 424 636 419.5C637.05 415 638.42 408.68 639.4 404.5C640.38 400.32 641.07 397.05 641.9 394.4C642.73 391.75 643.52 389.93 644.4 388.6C645.28 387.27 646.22 386.55 647.2 386.4C648.18 386.25 649.37 386.78 650.3 387.7C651.23 388.62 651.97 389.95 652.8 391.9C653.63 393.85 654.33 395.63 655.3 399.4C656.27 403.17 657.55 409.15 658.6 414.5C659.65 419.85 660.6 426.25 661.6 431.5C662.6 436.75 663.6 441.17 664.6 446C665.6 450.83 666.58 455.92 667.6 460.5C668.62 465.08 669.62 469.67 670.7 473.5C671.78 477.33 672.98 480.65 674.1 483.5C675.22 486.35 676 488.37 677.4 490.6C678.8 492.83 680.82 494.73 682.5 496.9C684.18 499.07 685.83 501.7 687.5 503.6C689.17 505.5 690.83 507.27 692.5 508.3C694.17 509.33 695.42 509.75 697.5 509.8C699.58 509.85 702.77 508.38 705 508.6C707.23 508.82 709.08 510.48 710.9 511.1C712.72 511.72 713.67 512.3 715.9 512.3C718.13 512.3 721.5 511.1 724.3 511.1C727.1 511.1 729.63 511.78 732.7 512.3C735.77 512.82 739.63 513.78 742.7 514.2C745.77 514.62 748.87 514.88 751.1 514.8C753.33 514.72 754.72 514 756.1 513.7C757.48 513.4 758.15 512.92 759.4 513C760.65 513.08 762.2 513.73 763.6 514.2C765 514.67 767.1 515.53 767.8 515.8" fill="none" stroke="#0a0a0a" stroke-width="1.2" stroke-linejoin="round" stroke-linecap="butt"/>
<line x1="622.21" y1="524.12" x2="622.21" y2="369.05" stroke="#ab3326" stroke-width="1.9" stroke-dasharray="6.4 6.55"/>
<line x1="677.64" y1="524.12" x2="677.64" y2="369.05" stroke="#ab3326" stroke-width="1.9" stroke-dasharray="6.4 6.55"/>
</g>
<text x="594.5" y="381.65" font-size="10.5" text-anchor="middle" fill="#ab3326" stroke="#ab3326">15.9 %</text>
<text x="649.92" y="381.65" font-size="10.5" text-anchor="middle" fill="#111" stroke="#111">76.3 %</text>
<text x="705.35" y="381.65" font-size="10.5" text-anchor="middle" fill="#ab3326" stroke="#ab3326">7.9 %</text>
<rect x="528.07" y="371.05" width="250.58" height="151.42" fill="none" stroke="#000" stroke-width="1.45"/>
</g>
<line x1="14.27" y1="55.55" x2="266.05" y2="55.55" stroke="#000" stroke-width="1.9"/>
<line x1="270.87" y1="55.55" x2="522.65" y2="55.55" stroke="#000" stroke-width="1.9"/>
<line x1="527.47" y1="55.55" x2="779.25" y2="55.55" stroke="#000" stroke-width="1.9"/>
<line x1="25.88" y1="522.47" x2="25.88" y2="525.37" stroke="#222" stroke-width="1"/>
<text x="25.88" y="534.7" font-size="10.2" text-anchor="middle" fill="#111" stroke="#111">-64</text>
<line x1="53.59" y1="522.47" x2="53.59" y2="525.37" stroke="#222" stroke-width="1"/>
<text x="53.59" y="534.7" font-size="10.2" text-anchor="middle" fill="#111" stroke="#111">-32</text>
<line x1="81.3" y1="522.47" x2="81.3" y2="525.37" stroke="#222" stroke-width="1"/>
<text x="81.3" y="534.7" font-size="10.2" text-anchor="middle" fill="#111" stroke="#111">0</text>
<line x1="109.01" y1="522.47" x2="109.01" y2="525.37" stroke="#222" stroke-width="1"/>
<text x="109.01" y="534.7" font-size="10.2" text-anchor="middle" fill="#111" stroke="#111">32</text>
<line x1="136.72" y1="522.47" x2="136.72" y2="525.37" stroke="#222" stroke-width="1"/>
<text x="136.72" y="534.7" font-size="10.2" text-anchor="middle" fill="#111" stroke="#111">64</text>
<line x1="164.44" y1="522.47" x2="164.44" y2="525.37" stroke="#222" stroke-width="1"/>
<text x="164.44" y="534.7" font-size="10.2" text-anchor="middle" fill="#111" stroke="#111">96</text>
<line x1="192.15" y1="522.47" x2="192.15" y2="525.37" stroke="#222" stroke-width="1"/>
<text x="192.15" y="534.7" font-size="10.2" text-anchor="middle" fill="#111" stroke="#111">128</text>
<line x1="219.86" y1="522.47" x2="219.86" y2="525.37" stroke="#222" stroke-width="1"/>
<text x="219.86" y="534.7" font-size="10.2" text-anchor="middle" fill="#111" stroke="#111">160</text>
<line x1="247.57" y1="522.47" x2="247.57" y2="525.37" stroke="#222" stroke-width="1"/>
<text x="247.57" y="534.7" font-size="10.2" text-anchor="middle" fill="#111" stroke="#111">192</text>
<line x1="282.48" y1="522.47" x2="282.48" y2="525.37" stroke="#222" stroke-width="1"/>
<text x="282.48" y="534.7" font-size="10.2" text-anchor="middle" fill="#111" stroke="#111">-64</text>
<line x1="310.19" y1="522.47" x2="310.19" y2="525.37" stroke="#222" stroke-width="1"/>
<text x="310.19" y="534.7" font-size="10.2" text-anchor="middle" fill="#111" stroke="#111">-32</text>
<line x1="337.9" y1="522.47" x2="337.9" y2="525.37" stroke="#222" stroke-width="1"/>
<text x="337.9" y="534.7" font-size="10.2" text-anchor="middle" fill="#111" stroke="#111">0</text>
<line x1="365.61" y1="522.47" x2="365.61" y2="525.37" stroke="#222" stroke-width="1"/>
<text x="365.61" y="534.7" font-size="10.2" text-anchor="middle" fill="#111" stroke="#111">32</text>
<line x1="393.32" y1="522.47" x2="393.32" y2="525.37" stroke="#222" stroke-width="1"/>
<text x="393.32" y="534.7" font-size="10.2" text-anchor="middle" fill="#111" stroke="#111">64</text>
<line x1="421.04" y1="522.47" x2="421.04" y2="525.37" stroke="#222" stroke-width="1"/>
<text x="421.04" y="534.7" font-size="10.2" text-anchor="middle" fill="#111" stroke="#111">96</text>
<line x1="448.75" y1="522.47" x2="448.75" y2="525.37" stroke="#222" stroke-width="1"/>
<text x="448.75" y="534.7" font-size="10.2" text-anchor="middle" fill="#111" stroke="#111">128</text>
<line x1="476.46" y1="522.47" x2="476.46" y2="525.37" stroke="#222" stroke-width="1"/>
<text x="476.46" y="534.7" font-size="10.2" text-anchor="middle" fill="#111" stroke="#111">160</text>
<line x1="504.17" y1="522.47" x2="504.17" y2="525.37" stroke="#222" stroke-width="1"/>
<text x="504.17" y="534.7" font-size="10.2" text-anchor="middle" fill="#111" stroke="#111">192</text>
<line x1="539.08" y1="522.47" x2="539.08" y2="525.37" stroke="#222" stroke-width="1"/>
<text x="539.08" y="534.7" font-size="10.2" text-anchor="middle" fill="#111" stroke="#111">-64</text>
<line x1="566.79" y1="522.47" x2="566.79" y2="525.37" stroke="#222" stroke-width="1"/>
<text x="566.79" y="534.7" font-size="10.2" text-anchor="middle" fill="#111" stroke="#111">-32</text>
<line x1="594.5" y1="522.47" x2="594.5" y2="525.37" stroke="#222" stroke-width="1"/>
<text x="594.5" y="534.7" font-size="10.2" text-anchor="middle" fill="#111" stroke="#111">0</text>
<line x1="622.21" y1="522.47" x2="622.21" y2="525.37" stroke="#222" stroke-width="1"/>
<text x="622.21" y="534.7" font-size="10.2" text-anchor="middle" fill="#111" stroke="#111">32</text>
<line x1="649.92" y1="522.47" x2="649.92" y2="525.37" stroke="#222" stroke-width="1"/>
<text x="649.92" y="534.7" font-size="10.2" text-anchor="middle" fill="#111" stroke="#111">64</text>
<line x1="677.64" y1="522.47" x2="677.64" y2="525.37" stroke="#222" stroke-width="1"/>
<text x="677.64" y="534.7" font-size="10.2" text-anchor="middle" fill="#111" stroke="#111">96</text>
<line x1="705.35" y1="522.47" x2="705.35" y2="525.37" stroke="#222" stroke-width="1"/>
<text x="705.35" y="534.7" font-size="10.2" text-anchor="middle" fill="#111" stroke="#111">128</text>
<line x1="733.06" y1="522.47" x2="733.06" y2="525.37" stroke="#222" stroke-width="1"/>
<text x="733.06" y="534.7" font-size="10.2" text-anchor="middle" fill="#111" stroke="#111">160</text>
<line x1="760.77" y1="522.47" x2="760.77" y2="525.37" stroke="#222" stroke-width="1"/>
<text x="760.77" y="534.7" font-size="10.2" text-anchor="middle" fill="#111" stroke="#111">192</text>
<text x="396.5" y="547.5" font-size="10.37" font-weight="bold" text-anchor="middle" fill="#000">Total piperacillin concentration [mg/L]</text>
<text transform="translate(7.85 288.9) rotate(-90)" font-size="10.37" font-weight="bold" text-anchor="middle" fill="#000">Density</text>
</svg></body></html>
